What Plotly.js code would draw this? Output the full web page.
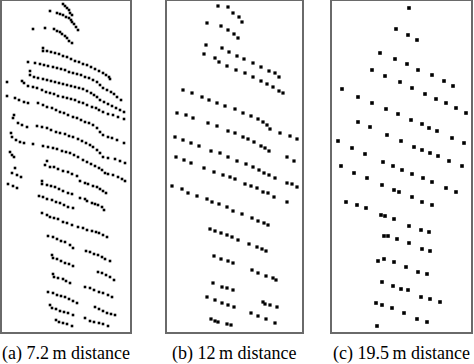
<!DOCTYPE html>
<html><head><meta charset="utf-8">
<script src="https://cdn.plot.ly/plotly-3.0.1.min.js"></script>
<style>body{margin:0;padding:0;background:#fff}#plot{width:474px;height:364px}</style>
</head><body><div id="plot"></div>
<script>
// Point positions (panel pixel units)
const aX = [63,65,67,69,70,72,
 50,57,60,63,66,69,71,72,74,76,78,
 33,45,54,57,60,62,65,67,69,72,
 43,43,47,51,55,59,63,67,71,75,79,83,87,91,95,99,103,106,109,110,
 28,35,40,44,48,53,57,61,65,69,73,77,81,85,89,93,97,100,103,107,111,114,117,121,
 30,30,34,38,43,47,51,55,59,63,67,71,75,79,83,87,91,94,97,100,104,108,112,116,120,124,
 7,22,24,28,33,37,42,46,50,54,58,63,67,71,75,79,83,87,92,96,99,103,108,113,118,124,
 7,15,19,24,28,38,43,47,52,56,60,64,68,73,77,81,85,89,93,97,100,103,108,112,117,124,
 14,13,18,22,27,37,42,47,51,56,60,65,69,73,78,82,86,90,93,97,100,103,108,115,120,125,
 11,12,16,20,24,33,43,48,53,57,62,66,70,74,78,83,87,91,95,99,102,105,108,113,118,122,125,
 10,12,14,47,45,50,54,58,63,68,72,77,
 15,12,17,21,8,13,17,
 42,42,47,51,55,59,63,68,72,
 80,85,88,93,97,100,103,106,
 39,43,47,52,56,60,64,68,73,
 80,85,87,92,95,98,102,104,
 42,47,50,54,58,63,67,72,
 78,83,87,92,96,99,103,107,
 48,53,57,61,65,70,73,
 52,53,57,61,65,69,73,
 86,90,94,98,102,105,110,
 53,54,58,63,66,70,
 98,102,106,110,114,
 85,90,94,99,103,108,112,
 48,53,57,61,65,69,73,77,
 50,52,56,60,64,68,73,
 95,99,103,107,111,115,
 56,59,63,67,72,
 85,90,94,99,103,108];
const aY = [4,6,8,10,13,15,
 11,13,14,15,17,18,20,22,24,27,30,
 29,28,29,31,32,34,36,38,41,43,
 48,51,51,52,53,54,56,57,59,61,62,64,65,67,69,71,73,75,77,79,
 62,63,64,65,66,67,68,69,70,72,73,74,75,77,78,80,82,85,88,90,92,94,97,100,
 71,75,77,78,79,80,81,82,83,84,85,86,87,88,89,91,93,95,97,100,102,104,106,108,110,112,
 82,81,83,86,87,88,90,92,93,94,96,97,98,99,100,102,103,105,107,108,110,112,114,115,117,119,
 96,98,100,102,103,103,105,107,108,110,112,113,115,117,118,120,122,123,125,128,132,135,137,138,140,143,
 115,118,123,125,127,126,127,128,130,132,133,134,136,137,139,141,143,145,147,150,153,157,158,159,161,163,
 133,137,140,142,143,144,146,147,148,149,151,152,153,155,157,160,162,164,166,168,170,173,174,175,177,179,181,
 152,155,157,161,165,167,167,169,171,172,174,176,
 168,173,175,177,184,186,188,
 181,184,185,186,187,189,191,193,194,
 181,183,184,186,187,189,191,193,
 196,197,199,200,202,203,205,207,208,
 198,199,201,203,204,205,207,210,
 213,215,217,218,219,222,223,225,
 227,228,230,231,232,233,235,237,
 236,237,239,241,242,245,248,
 255,258,259,261,263,264,266,
 251,252,254,255,257,259,261,
 274,277,278,279,281,283,
 272,273,275,277,280,
 287,288,290,292,293,295,297,
 292,293,295,296,297,299,301,303,
 305,308,309,311,312,313,315,
 307,309,311,313,314,315,
 320,322,323,324,326,
 318,321,322,323,324,326];

const bX = [218,228,233,239,242,
 207,221,228,234,238,
 206,204,222,229,237,244,253,261,269,275,279,
 215,219,227,236,245,253,261,267,273,279,283,
 183,192,202,209,217,225,235,243,251,258,263,267,270,280,290,297,
 177,186,193,208,217,228,235,243,248,254,261,265,269,
 175,183,191,199,211,220,228,237,246,253,259,264,269,275,
 176,184,191,204,214,223,230,235,
 287,294,
 245,251,257,263,268,274,
 287,292,297,287,
 172,182,188,197,207,212,219,227,233,242,252,258,264,268,
 210,215,221,227,232,238,249,257,262,266,
 214,221,228,233,
 252,258,266,273,276,
 213,222,227,233,
 207,215,222,228,234,
 263,265,270,277,
 251,258,266,275,
 211,215,218,227,231];
const bY = [6,7,13,17,22,
 23,26,30,34,38,
 45,54,48,52,56,59,63,67,71,73,77,
 58,62,66,70,73,77,81,84,87,91,93,
 90,93,97,100,103,106,109,113,116,119,122,125,129,133,136,139,
 113,115,118,123,126,131,133,137,139,142,146,148,151,
 137,140,143,146,151,153,157,161,164,167,170,173,175,178,
 157,160,163,168,172,175,177,179,
 157,161,
 184,186,188,192,193,197,
 183,184,187,202,
 186,189,193,196,199,202,204,207,211,214,218,221,223,225,
 229,231,233,235,237,240,244,247,249,251,
 256,259,261,263,
 270,273,276,278,280,
 283,287,288,290,
 297,300,303,305,307,
 302,304,305,307,
 313,316,319,323,
 319,321,322,324,325];

const cX = [409,
 396,408,417,
 380,395,407,418,432,444,453,
 372,385,400,412,425,436,446,456,466,
 342,358,372,386,398,411,422,429,437,452,464,
 358,370,387,401,414,422,430,438,449,462,
 338,352,365,383,393,402,412,423,432,
 341,
 354,367,382,394,399,412,422,432,446,456,
 346,357,366,381,385,394,409,421,429,
 384,388,397,409,422,430,
 378,384,394,406,418,427,
 382,393,401,408,421,430,440,
 376,382,392,404,417,427,
 377];
const cY = [8,
 29,35,40,
 53,59,64,70,75,81,86,
 70,76,82,88,94,99,103,108,113,
 89,97,103,109,114,120,124,128,131,138,143,
 122,127,135,141,147,150,153,156,161,166,
 141,148,154,162,166,170,174,178,182,
 166,
 173,178,185,190,192,197,202,205,188,192,
 202,205,208,215,216,219,226,230,232,
 236,236,239,243,249,251,
 261,259,262,267,272,274,
 282,286,289,290,297,299,302,
 303,305,308,313,319,322,
 326];

const captions = ["(a) 7.2\u2009m distance", "(b) 12\u2009m distance", "(c) 19.5\u2009m distance"];

const W = 474, H = 364;
const frames = [[2,130],[167,302],[332,471]];
const yTop = 1, yBot = 332;
const sizes = [2.6, 3.2, 3.6];
const xs = [aX,bX,cX], ys = [aY,bY,cY];
const capX = [66, 234, 401];

const data = [];
const layout = {width:W, height:H, margin:{l:0,r:0,t:0,b:0}, showlegend:false,
  paper_bgcolor:'#fff', plot_bgcolor:'#fff', annotations:[]};
for (let i=0;i<3;i++){
  const s = i===0?'':String(i+1);
  data.push({type:'scatter', mode:'markers', x:xs[i], y:ys[i], xaxis:'x'+s, yaxis:'y'+s,
    marker:{symbol:'square', size:sizes[i], color:'#000', line:{width:0}}, hoverinfo:'skip'});
  const ax = {domain:[frames[i][0]/W, frames[i][1]/W], range:frames[i], showgrid:false, zeroline:false,
    showticklabels:false, ticks:'', showline:true, mirror:true, linecolor:'#6a6a6a', linewidth:2, anchor:'y'+s};
  const ay = {domain:[1-yBot/H, 1-yTop/H], range:[yBot,yTop], showgrid:false, zeroline:false,
    showticklabels:false, ticks:'', showline:true, mirror:true, linecolor:'#6a6a6a', linewidth:2, anchor:'x'+s};
  layout['xaxis'+s] = ax; layout['yaxis'+s] = ay;
  layout.annotations.push({text:captions[i], xref:'paper', yref:'paper', x:capX[i]/W, y:1-353/H,
    xanchor:'center', yanchor:'middle', showarrow:false,
    font:{family:'Liberation Serif, Times New Roman, serif', size:18, color:'#000'}});
}
Plotly.newPlot('plot', data, layout, {staticPlot:true, displayModeBar:false});
</script></body></html>
